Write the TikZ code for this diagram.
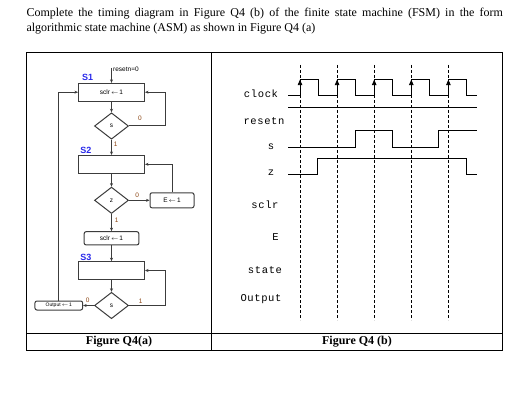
\documentclass[tikz,border=0pt]{standalone}
\usepackage{fontspec}
\setmainfont{Liberation Serif}
\setsansfont{Liberation Sans}
\newfontfamily\monof[LetterSpace=6]{Liberation Mono}
\usetikzlibrary{shapes.geometric,arrows.meta}
\definecolor{asmgray}{RGB}{60,60,60}
\definecolor{stateblue}{RGB}{40,40,235}
\definecolor{branchcol}{RGB}{140,70,20}
\newcommand{\asgn}{\,$\leftarrow$\,}
\begin{document}
\begin{tikzpicture}[x=1pt,y=-1pt,
  tbl/.style={line width=0.9pt,draw=black},
  asmline/.style={draw=asmgray,line width=1pt},
  arr/.style={asmline,-{Stealth[length=3.5pt,width=3pt]}},
  asmbox/.style={draw=asmgray,line width=1pt,inner sep=0pt,minimum width=66pt,minimum height=17.7pt,font=\sffamily\fontsize{6.5}{7}\selectfont},
  rbox/.style={asmbox,rounded corners=2pt},
  dec/.style={diamond,draw=asmgray,line width=1pt,inner sep=0pt,minimum width=34pt,minimum height=26.4pt,font=\sffamily\fontsize{6.5}{7}\selectfont},
  stlabel/.style={font=\sffamily\bfseries\fontsize{9}{10}\selectfont,text=stateblue,inner sep=0pt},
  brlabel/.style={font=\sffamily\fontsize{6.5}{7}\selectfont,text=branchcol,inner sep=0pt},
  siglabel/.style={font=\monof\fontsize{10.5}{11}\selectfont,inner sep=0pt},
  wave/.style={line width=0.8pt,draw=black},
  tick/.style={line width=0.6pt,draw=black,dash pattern=on 3pt off 2pt},
  caption/.style={font=\bfseries\fontsize{12}{14}\selectfont,inner sep=0pt}
]
\fill[white] (0,0) rectangle (530,409);
\useasboundingbox (0,0) rectangle (530,409);

% title
\node[anchor=north west,inner sep=0pt,text width=476.4pt,align=justify,font=\fontsize{12}{15}\selectfont] (title) at (26.3,8.3)
{Complete the timing diagram in Figure Q4 (b) of the finite state machine (FSM) in the form\linebreak algorithmic state machine (ASM) as shown in Figure Q4 (a)};

% table
\draw[tbl] (26.3,52.3) rectangle (502.7,350);
\draw[tbl] (211.7,52.3) -- (211.7,350);
\draw[tbl] (26.3,333.3) -- (502.7,333.3);
\node[caption] (capa) at (119,341.7) {Figure Q4(a)};
\node[caption] (capb) at (357,341.7) {Figure Q4 (b)};

% ASM chart
\node[asmbox] (s1) at (111.5,92.2) {sclr\asgn1};
\node[dec] (d1) at (111.5,126) {s};
\node[asmbox] (s2) at (111.5,164.3) {};
\node[dec] (d2) at (111.5,200.3) {z};
\node[rbox,minimum width=44pt,minimum height=15pt] (eb) at (172,200.3) {E\asgn1};
\node[rbox,minimum width=54.7pt,minimum height=13.3pt] (sc) at (111.5,238.3) {sclr\asgn1};
\node[asmbox] (s3) at (111.5,270.5) {};
\node[dec] (d3) at (111.5,305.5) {s};
\node[rbox,minimum width=47.7pt,minimum height=9pt,font=\sffamily\fontsize{5}{6}\selectfont] (ob) at (58.8,305.5) {Output\asgn1};

\node[stlabel] (l1) at (87.7,77.7) {S1};
\node[stlabel] (l2) at (86,150) {S2};
\node[stlabel] (l3) at (86,257.3) {S3};

\coordinate (rs) at (111.5,68);
\draw[arr] (rs) -- (s1);
\node[anchor=west,inner sep=0pt,font=\sffamily\fontsize{6.5}{7}\selectfont] (rl) at (113,69) {resetn=0};

\draw[arr] (s1) -- (d1);
\coordinate (c1) at (165.7,126);
\draw[arr] (d1.east) -- (c1) |- (s1.east);
\node[brlabel] (b1) at (140,118.3) {0};
\draw[arr] (d1.south) -- (s2);
\node[brlabel] (b2) at (115.7,144) {1};

\draw[arr] (s2) -- (d2);
\draw[arr] (d2.east) -- (eb.west);
\node[brlabel] (b3) at (137.3,195.7) {0};
\draw[arr] (eb.north) |- (s2.east);
\draw[arr] (d2.south) -- (sc);
\node[brlabel] (b4) at (116.7,220) {1};

\draw[arr] (sc) -- (s3);
\draw[arr] (s3) -- (d3);
\coordinate (c3) at (165.7,305.5);
\draw[arr] (d3.east) -- (c3) |- (s3.east);
\node[brlabel] (b5) at (140.7,301.3) {1};
\draw[arr] (d3.west) -- (ob.east);
\node[brlabel] (b6) at (87.7,300) {0};
\draw[arr] (ob.north) |- (s1.west);

% timing diagram labels
\node[siglabel] (tclk) at (261,93.3) {clock};
\node[siglabel] (trst) at (264,121) {resetn};
\node[siglabel] (ts) at (271,146.7) {s};
\node[siglabel] (tz) at (271,172.7) {z};
\node[siglabel] (tsclr) at (265,205) {sclr};
\node[siglabel] (tE) at (275.5,236.7) {E};
\node[siglabel] (tstate) at (265,270) {state};
\node[siglabel] (tout) at (261,299) {Output};

% dashed ticks
\foreach \x in {300,337.1,374.2,411.3,448.4}
  \draw[tick] (\x,65) -- (\x,320);

% clock
\draw[wave] (288.3,95.7) -- (300,95.7) -- (300,79.3) -- (318.4,79.3) -- (318.4,95.7)
  -- (337.1,95.7) -- (337.1,79.3) -- (355.5,79.3) -- (355.5,95.7)
  -- (374.2,95.7) -- (374.2,79.3) -- (392.6,79.3) -- (392.6,95.7)
  -- (411.3,95.7) -- (411.3,79.3) -- (429.7,79.3) -- (429.7,95.7)
  -- (448.4,95.7) -- (448.4,79.3) -- (466.8,79.3) -- (466.8,95.7) -- (476.7,95.7);
\foreach \x in {300,337.1,374.2,411.3,448.4}
  \draw[line width=0.8pt,-{Triangle[length=5.5pt,width=4.5pt]}] (\x,90) -- (\x,79.6);

% resetn
\draw[wave] (288.3,107.3) -- (476.7,107.3);
% s
\draw[wave] (288.3,147.3) -- (355.6,147.3) -- (355.6,130.7) -- (392.6,130.7) -- (392.6,147.3)
  -- (438.3,147.3) -- (438.3,130.7) -- (476.7,130.7);
% z
\draw[wave] (288.3,174) -- (317.3,174) -- (317.3,158.3) -- (466.8,158.3) -- (466.8,174) -- (476.7,174);
\end{tikzpicture}
\end{document}
